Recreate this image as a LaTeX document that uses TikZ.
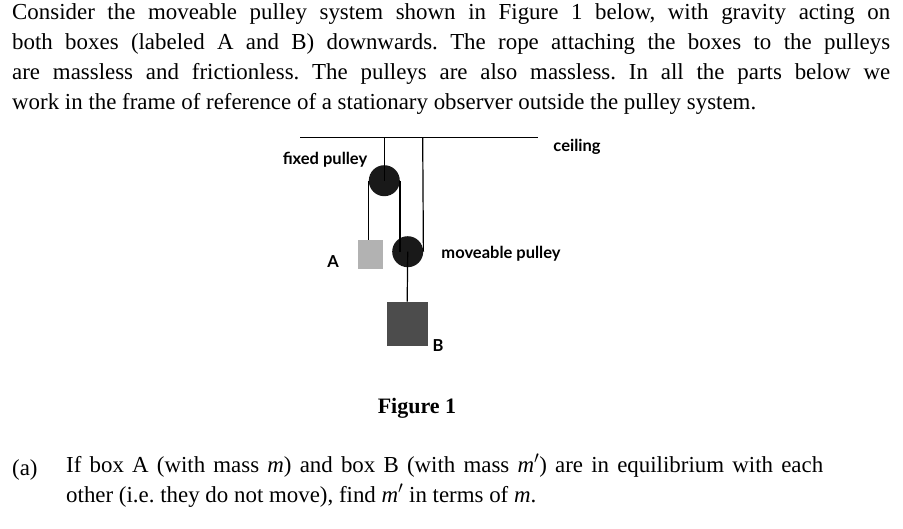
\documentclass[tikz,border=0pt]{standalone}
\usepackage{fontspec}
\setmainfont{Liberation Serif}
\newfontfamily\lab{Lato}
\begin{document}
\frenchspacing
\begin{tikzpicture}[x=1pt,y=1pt,
  rope/.style={line width=1.2pt},
  pulley/.style={circle,fill=black!90,minimum size=31pt,inner sep=0pt},
  lbl/.style={font=\lab\fontsize{16.5}{18}\selectfont\bfseries,inner sep=0pt},
  body/.style={font=\fontsize{22.9}{30}\selectfont}]
\useasboundingbox (0,0) rectangle (903,-528);
\node[anchor=north west,inner sep=0pt,text width=878pt,align=justify,body] (txt) at (12,-3)
{Consider the moveable pulley system shown in Figure 1 below, with gravity acting on\linebreak
both boxes (labeled A and B) downwards. The rope attaching the boxes to the pulleys\linebreak
are massless and frictionless. The pulleys are also massless. In all the parts below we\linebreak
work in the frame of reference of a stationary observer outside the pulley system.};
% figure
\coordinate (c1) at (300,-137.7);
\coordinate (c2) at (538,-137.7);
\draw[rope] (c1) -- (c2);
\node[pulley] (fp) at (384.3,-180.7) {};
\node[pulley] (mp) at (407.7,-251.7) {};
\node[draw=none,fill=black!30,minimum width=24.7pt,minimum height=28.3pt,inner sep=0pt,anchor=north west] (A) at (358,-240) {};
\node[draw=none,fill=black!70,minimum width=40.6pt,minimum height=44pt,inner sep=0pt,anchor=north west] (B) at (386.7,-301.7) {};
\coordinate (t1) at (384.3,-137.7);
\coordinate (t2) at (422.7,-137.7);
\draw[rope] (t1) -- (fp.center);
\draw[rope] (t2) -- (mp.east);
\draw[rope] (fp.west) -- (fp.west |- A.north);
\draw[rope] (fp.east) -- (fp.east |- mp.west);
\draw[rope] (mp.center) -- (B.north);
\node[lbl] (lc) at (577,-147) {ceiling};
\node[lbl] (lf) at (325,-160) {fixed pulley};
\node[lbl] (la) at (333,-262) {A};
\node[lbl] (lm) at (501,-254) {moveable pulley};
\node[lbl] (lb) at (438,-346) {B};
\node[font=\fontsize{22}{24}\selectfont\bfseries] (fig) at (417,-408) {Figure 1};
\node[anchor=north west,inner sep=0pt,text width=757pt,align=justify,body] (qa) at (66,-454)
{If box A (with mass \textit{m}) and box B (with mass \textit{m}$'$) are in equilibrium with each\linebreak
other (i.e. they do not move), find \textit{m}$'$ in terms of \textit{m}.};
\node[anchor=base west,inner sep=0pt,body] (pa) at (12,-475) {(a)};
\end{tikzpicture}
\end{document}
